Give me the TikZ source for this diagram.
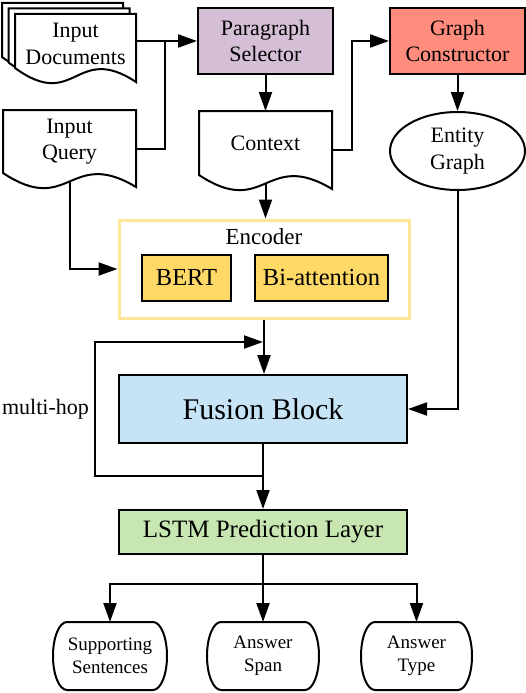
\documentclass[tikz,border=0pt]{standalone}
\usepackage{fontspec}
\setmainfont{Liberation Serif}
\usetikzlibrary{calc,positioning,arrows.meta,shapes.geometric}
\definecolor{selectorpurple}{HTML}{D5BFD6}
\definecolor{constructorred}{HTML}{FF8C7C}
\definecolor{encoderyellow}{HTML}{FFE699}
\definecolor{bertyellow}{HTML}{FFD966}
\definecolor{fusionblue}{HTML}{C6E4F6}
\definecolor{lstmgreen}{HTML}{C7E6B2}

% outline of a document node, wavy bottom
\newcommand{\docpath}[1]{%
  \draw[line, fill=white] (#1.north west) -- (#1.north east) -- ([yshift=-14pt]#1.south east)
    .. controls ($(#1.south)+(0,26)$) and ($(#1.south)+(0,-44)$) .. (#1.south west) -- cycle;}
% outline of a terminal node, elliptic ends
\newcommand{\termpath}[1]{%
  \draw[line] ([xshift=14pt]#1.north west) -- ([xshift=-14pt]#1.north east)
    arc[start angle=90, end angle=-90, x radius=14pt, y radius=34pt]
    -- ([xshift=14pt]#1.south west)
    arc[start angle=270, end angle=90, x radius=14pt, y radius=34pt] -- cycle;}

\begin{document}
\begin{tikzpicture}[
    x=1pt, y=1pt,
    font=\fontsize{22}{26.4}\selectfont,
    line/.style={line width=2pt, draw=black},
    arrow/.style={line, -{Triangle[length=19pt, width=13pt]}},
    box/.style={draw=black, line width=2pt, align=center, inner sep=0pt},
    doc/.style={align=center, inner sep=0pt, outer sep=0pt},
    term/.style={align=center, inner sep=0pt, outer sep=0pt, minimum width=112pt, minimum height=68pt, font=\fontsize{19}{23.3}\selectfont}
  ]
    \path[use as bounding box, fill=white] (0,0) rectangle (526,-693);

    % inputs
    \node[doc, minimum width=121pt, minimum height=54pt] (docsback) at (62.5,-30) {};
    \node[doc, minimum width=121pt, minimum height=54pt] (docsmid) at (69,-35.5) {};
    \node[doc, minimum width=121pt, minimum height=54pt] (docs) at (75.5,-41) {};
    \node[doc, minimum width=133pt, minimum height=63pt] (query) at (69.5,-141.5) {};
    \docpath{docsback}
    \docpath{docsmid}
    \docpath{docs}
    \docpath{query}
    \node[doc, yshift=-3pt] at (docs) {Input\\Documents};
    \node[doc] at (query) {Input\\Query};

    % selection and graph
    \node[box, fill=selectorpurple, minimum width=135pt, minimum height=66pt] (selector) at (265.5,-41) {Paragraph\\Selector};
    \node[box, fill=constructorred, minimum width=135pt, minimum height=66pt, right=55pt of selector] (constructor) {Graph\\Constructor};
    \node[doc, minimum width=133pt, minimum height=64pt, below=36pt of selector] (context) {};
    \docpath{context}
    \node[doc] at (context) {Context};
    \node[box, ellipse, minimum width=135pt, minimum height=78pt, below=36pt of constructor] (entity) {Entity\\Graph};

    % encoder
    \node[draw=encoderyellow, line width=3pt, minimum width=290pt, minimum height=98pt] (encoder) at (264,-269) {};
    \node[anchor=base, font=\fontsize{23}{27}\selectfont] (enctitle) at ($(encoder.north)+(0,-26)$) {Encoder};
    \node[box, fill=bertyellow, minimum width=89pt, minimum height=46pt, font=\fontsize{24.5}{29}\selectfont] (bert) at (186.5,-278) {BERT};
    \node[box, fill=bertyellow, minimum width=133pt, minimum height=46pt, font=\fontsize{24.5}{29}\selectfont, right=22pt of bert] (biatt) {Bi-attention};

    % fusion and prediction
    \node[box, fill=fusionblue, minimum width=288pt, minimum height=68pt, font=\fontsize{30}{36}\selectfont] (fusion) at (263,-409) {Fusion Block};
    \node[box, fill=lstmgreen, minimum width=288pt, minimum height=44pt, font=\fontsize{25}{30}\selectfont, below=65pt of fusion] (lstm) {LSTM Prediction Layer};
    \node[anchor=base] (hoplabel) at (45.5,-414) {multi-hop};

    % outputs
    \node[term] (span) at (263,-656) {Answer\\Span};
    \node[term, minimum width=114pt, left=40pt of span] (sup) {Supporting\\Sentences};
    \node[term, minimum width=111pt, right=42pt of span] (type) {Answer\\Type};
    \termpath{sup}
    \termpath{span}
    \termpath{type}

    \coordinate (jdocs) at ($(docs.east)!0.47!(selector.west)$);
    \coordinate (hopbot) at ($(fusion.south)+(0,-32)$);
    \coordinate (hoptop) at ($(fusion.north)+(0,32)$);
    \coordinate (split) at ($(lstm.south)+(0,-29)$);

    \draw[arrow] (docs.east) -- (selector.west);
    \draw[line] ([yshift=-7pt]query.east) -| (jdocs);
    \draw[arrow] ([yshift=-8pt]query.south) |- (encoder.west);
    \draw[arrow] (selector) -- (context);
    \draw[arrow] ([yshift=-7pt]context.east) -- ++(20,0) |- (constructor.west);
    \draw[arrow] (constructor) -- (entity);
    \draw[arrow] (entity.south) |- (fusion.east);
    \draw[arrow] ([yshift=-9pt]context.south) -- (context.south |- encoder.north);
    \draw[arrow] (encoder.south) -- (encoder.south |- fusion.north);
    \draw[arrow] (fusion.south) -- (hopbot) -- ++(-168,0) |- (hoptop);
    \draw[arrow] (hopbot) -- (lstm.north);
    \draw[line] (lstm.south) -- (split);
    \draw[arrow] (split) -| (sup.north);
    \draw[arrow] (split) -- (span.north);
    \draw[arrow] (split) -| (type.north);
  \end{tikzpicture}
\end{document}
